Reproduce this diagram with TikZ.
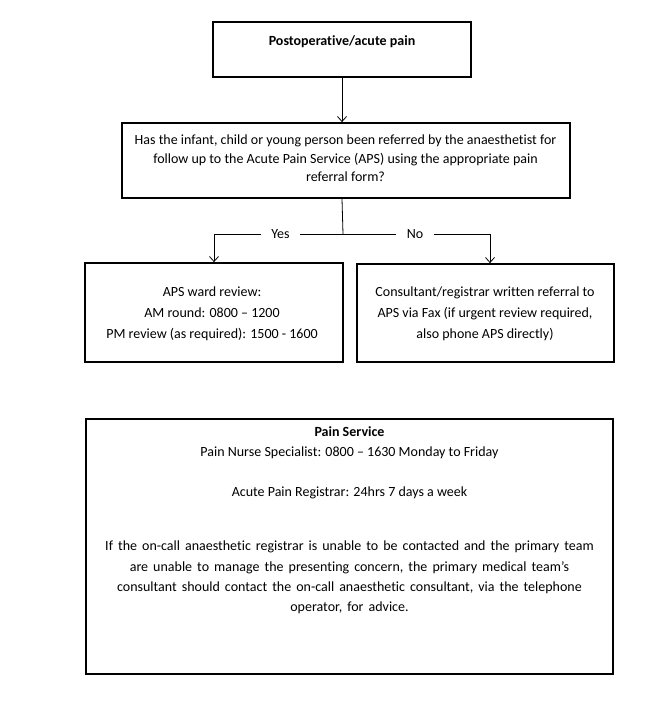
\documentclass[tikz,border=0pt]{standalone}
\usepackage{fontspec}
\setmainfont{Carlito}[Ligatures=NoCommon]
\usetikzlibrary{arrows.meta}
\newcommand\widespaces{\spaceskip=0.36em plus 0.1em\relax}
\begin{document}
\begin{tikzpicture}[x=1pt,y=-1pt,
  box/.style={draw=black, line width=1.8pt, rectangle, inner sep=0pt},
  txt/.style={align=center, inner sep=0pt, font=\fontsize{14}{20}\selectfont},
  lbl/.style={inner xsep=10.5pt, inner ysep=2pt, font=\fontsize{14}{16}\selectfont},
  conn/.style={draw=black, line width=0.8pt},
  arr/.style={conn, -{Straight Barb[length=5pt,width=9pt,line width=0.8pt]}}
]
\useasboundingbox (0,0) rectangle (658,709);

% boxes
\node[box, minimum width=258pt, minimum height=55pt] (b1) at (342,49.5) {};
\node[box, minimum width=448pt, minimum height=75pt] (b2) at (346,160.5) {};
\node[box, minimum width=258pt, minimum height=99pt] (b3) at (214,312.5) {};
\node[box, minimum width=257pt, minimum height=98pt] (b4) at (485.5,313) {};
\node[box, minimum width=527pt, minimum height=255pt] (b5) at (349.5,546.5) {};

% texts
\node[txt, font=\fontsize{14}{20}\selectfont\bfseries] (t1) at (342,42) {Postoperative/acute pain};
\node[txt, font=\fontsize{14}{18.5}\selectfont] (t2) at (345.5,158.5) {Has the infant, child or young person been referred by the anaesthetist for\\follow up to the Acute Pain Service (APS) using the appropriate pain\\referral form?};
\node[txt, font=\fontsize{14}{21}\selectfont] (t3) at (212,314) {APS ward review:\\AM round: 0800 -- 1200\\PM review (as required): 1500 - 1600};
\node[txt, font=\fontsize{14}{21}\selectfont] (t4) at (485,314) {Consultant/registrar written referral to\\APS via Fax (if urgent review required,\\also phone APS directly)};
\node[txt] (t5a) at (349.5,443) {\textbf{Pain Service}\\Pain Nurse Specialist: 0800 -- 1630 Monday to Friday};
\node[txt] (t5b) at (349.5,493) {Acute Pain Registrar: 24hrs 7 days a week};
\node[txt, font=\fontsize{14}{20.3}\selectfont\widespaces] (t5c) at (349.5,577.5) {If the on-call anaesthetic registrar is unable to be contacted and the primary team\\are unable to manage the presenting concern, the primary medical team’s\\consultant should contact the on-call anaesthetic consultant, via the telephone\\operator, for advice.};

% labels
\node[lbl] (yes) at (280.5,234) {Yes};
\node[lbl] (no) at (415,234) {No};
\coordinate (split) at (343,234);

% connectors
\draw[arr] (b1.south) -- (b1.south |- b2.north);
\draw[conn] (b1.south |- b2.south) -- (split);
\draw[conn] (split) -- (yes.east);
\draw[conn] (split) -- (no.west);
\draw[arr] (yes.west) -| (b3.north);
\draw[arr] (no.east) -| ([xshift=4.5pt]b4.north);
\end{tikzpicture}
\end{document}
